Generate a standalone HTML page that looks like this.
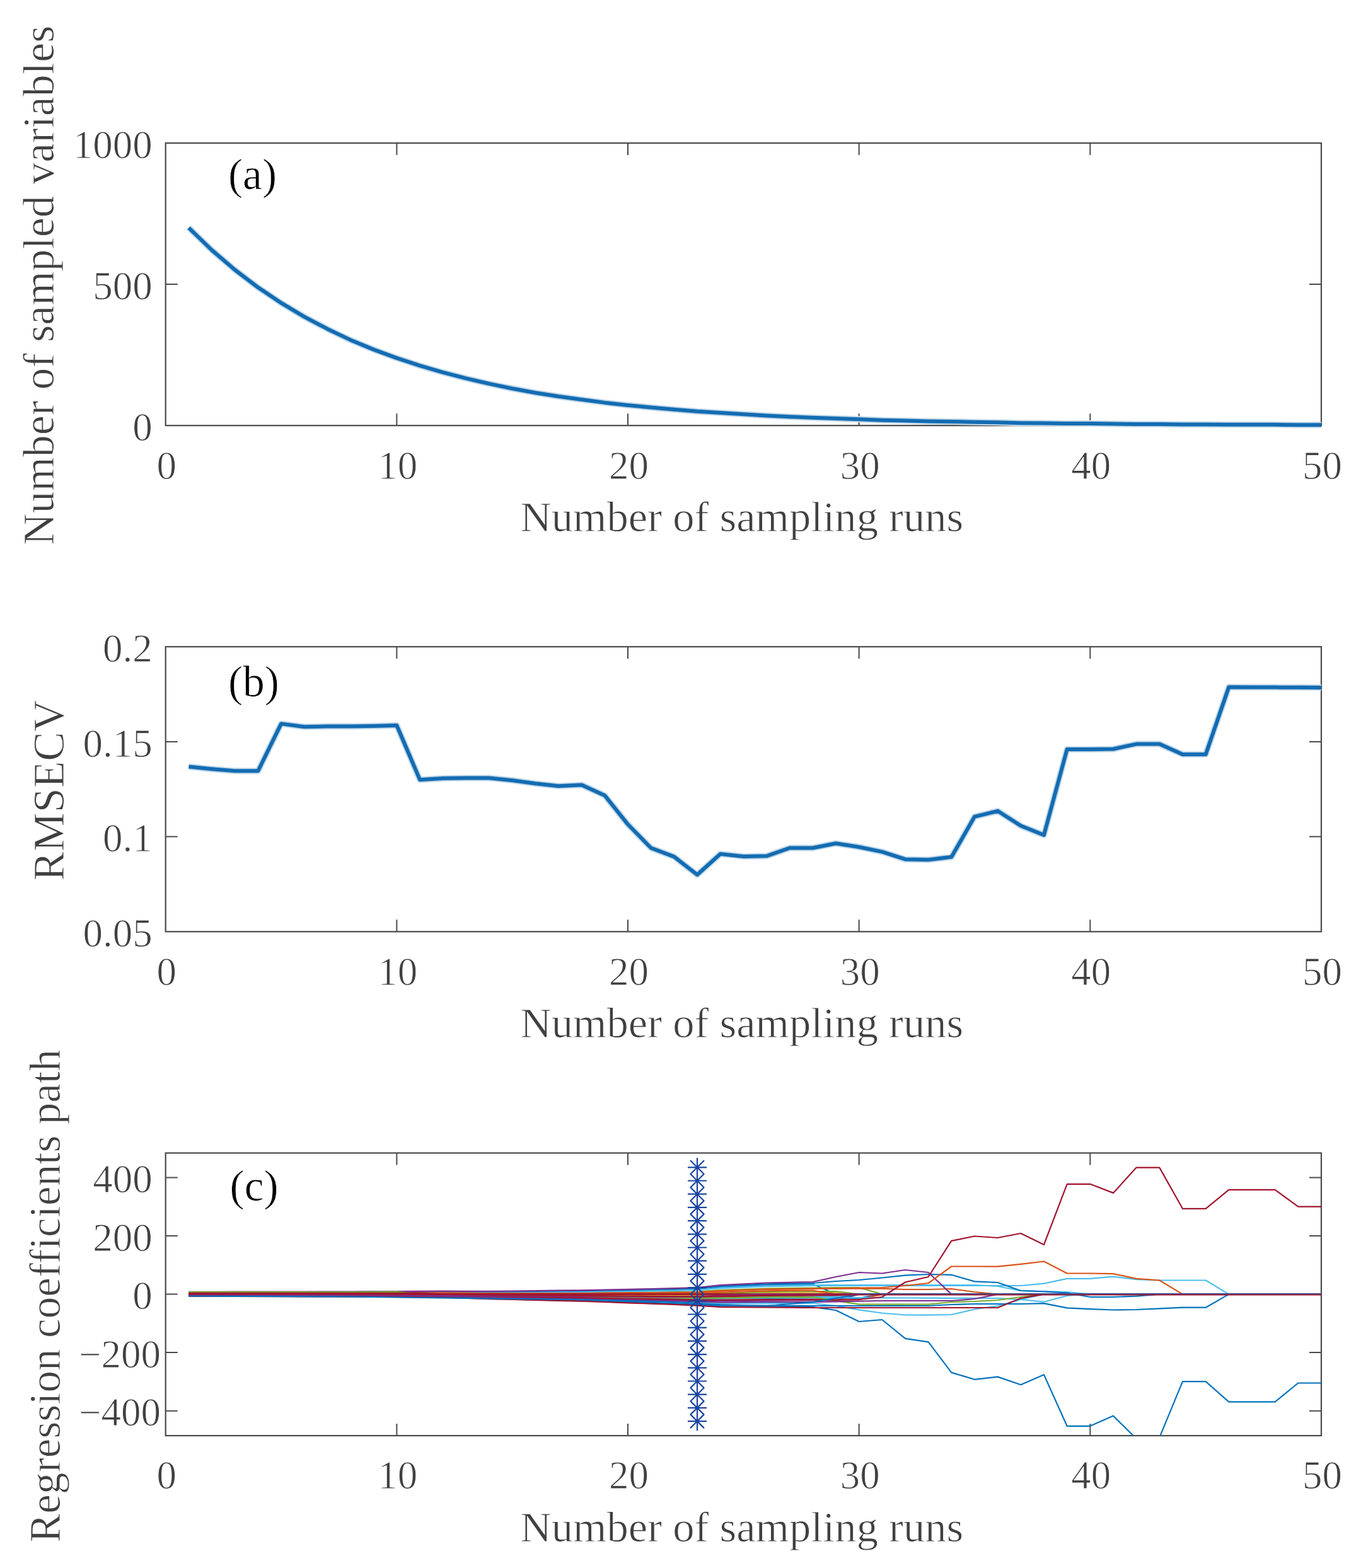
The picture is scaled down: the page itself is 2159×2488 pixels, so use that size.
<!DOCTYPE html>
<html><head><meta charset="utf-8"><title>CARS</title>
<style>
html,body{margin:0;padding:0;background:#fff;}
body{width:2159px;height:2488px;overflow:hidden;}
svg{display:block;}
.t{font-family:"Liberation Serif","Times New Roman",serif;font-size:63.0px;fill:#404040;stroke:#fff;stroke-width:0.9px;}
.l{font-family:"Liberation Serif","Times New Roman",serif;font-size:69.5px;fill:#404040;stroke:#fff;stroke-width:0.9px;}
.p{font-family:"Liberation Serif","Times New Roman",serif;font-size:69.5px;fill:#000;stroke:#fff;stroke-width:0.7px;}
</style></head><body>
<svg width="2159" height="2488" viewBox="0 0 2159 2488">
<rect x="0" y="0" width="2159" height="2488" fill="#ffffff"/>
<path d="M629.36 675.20V656.20M629.36 227.00V246.00M996.02 675.20V656.20M996.02 227.00V246.00M1362.68 675.20V656.20M1362.68 227.00V246.00M1729.34 675.20V656.20M1729.34 227.00V246.00M262.70 451.10H281.70M2096.00 451.10H2077.00" stroke="#4a4a4a" stroke-width="2" fill="none"/>
<rect x="262.70" y="227.00" width="1833.30" height="448.20" stroke="#4a4a4a" stroke-width="2.2" fill="none"/>
<path d="M629.36 1478.30V1459.30M629.36 1026.20V1045.20M996.02 1478.30V1459.30M996.02 1026.20V1045.20M1362.68 1478.30V1459.30M1362.68 1026.20V1045.20M1729.34 1478.30V1459.30M1729.34 1026.20V1045.20M262.70 1327.60H281.70M2096.00 1327.60H2077.00M262.70 1176.90H281.70M2096.00 1176.90H2077.00" stroke="#4a4a4a" stroke-width="2" fill="none"/>
<rect x="262.70" y="1026.20" width="1833.30" height="452.10" stroke="#4a4a4a" stroke-width="2.2" fill="none"/>
<path d="M629.36 2278.00V2259.00M629.36 1829.50V1848.50M996.02 2278.00V2259.00M996.02 1829.50V1848.50M1362.68 2278.00V2259.00M1362.68 1829.50V1848.50M1729.34 2278.00V2259.00M1729.34 1829.50V1848.50M262.70 2238.64H281.70M2096.00 2238.64H2077.00M262.70 2146.12H281.70M2096.00 2146.12H2077.00M262.70 2053.60H281.70M2096.00 2053.60H2077.00M262.70 1961.08H281.70M2096.00 1961.08H2077.00M262.70 1868.56H281.70M2096.00 1868.56H2077.00" stroke="#4a4a4a" stroke-width="2" fill="none"/>
<rect x="262.70" y="1829.50" width="1833.30" height="448.50" stroke="#4a4a4a" stroke-width="2.2" fill="none"/>
<path d="M299.37 361.46 L336.03 396.87 L372.70 428.24 L409.36 456.03 L446.03 480.68 L482.70 502.64 L519.36 521.92 L556.03 539.40 L592.69 554.63 L629.36 568.08 L666.03 580.18 L702.69 590.94 L739.36 600.35 L776.02 608.87 L812.69 616.49 L849.36 623.21 L886.02 629.04 L922.69 633.97 L959.35 638.90 L996.02 642.93 L1032.69 646.52 L1069.35 649.65 L1106.02 652.79 L1142.68 655.03 L1179.35 657.27 L1216.02 659.51 L1252.68 661.31 L1289.35 662.65 L1326.01 664.00 L1362.68 665.34 L1399.35 666.68 L1436.01 667.58 L1472.68 668.48 L1509.34 668.93 L1546.01 669.82 L1582.68 670.27 L1619.34 671.17 L1656.01 671.61 L1692.67 672.06 L1729.34 672.06 L1766.01 672.51 L1802.67 672.96 L1839.34 672.96 L1876.00 673.41 L1912.67 673.41 L1949.34 673.86 L1986.00 673.86 L2022.67 673.86 L2059.33 674.30 L2096.00 674.30" stroke="#c3d9ea" stroke-width="10" fill="none" stroke-linejoin="round"/>
<path d="M299.37 361.46 L336.03 396.87 L372.70 428.24 L409.36 456.03 L446.03 480.68 L482.70 502.64 L519.36 521.92 L556.03 539.40 L592.69 554.63 L629.36 568.08 L666.03 580.18 L702.69 590.94 L739.36 600.35 L776.02 608.87 L812.69 616.49 L849.36 623.21 L886.02 629.04 L922.69 633.97 L959.35 638.90 L996.02 642.93 L1032.69 646.52 L1069.35 649.65 L1106.02 652.79 L1142.68 655.03 L1179.35 657.27 L1216.02 659.51 L1252.68 661.31 L1289.35 662.65 L1326.01 664.00 L1362.68 665.34 L1399.35 666.68 L1436.01 667.58 L1472.68 668.48 L1509.34 668.93 L1546.01 669.82 L1582.68 670.27 L1619.34 671.17 L1656.01 671.61 L1692.67 672.06 L1729.34 672.06 L1766.01 672.51 L1802.67 672.96 L1839.34 672.96 L1876.00 673.41 L1912.67 673.41 L1949.34 673.86 L1986.00 673.86 L2022.67 673.86 L2059.33 674.30 L2096.00 674.30" stroke="#136cb2" stroke-width="6" fill="none" stroke-linejoin="round"/>
<text x="264.20" y="759.50" class="t" text-anchor="middle">0</text>
<text x="630.86" y="759.50" class="t" text-anchor="middle">10</text>
<text x="997.52" y="759.50" class="t" text-anchor="middle">20</text>
<text x="1364.18" y="759.50" class="t" text-anchor="middle">30</text>
<text x="1730.84" y="759.50" class="t" text-anchor="middle">40</text>
<text x="2097.50" y="759.50" class="t" text-anchor="middle">50</text>
<text x="241.70" y="699.00" class="t" text-anchor="end">0</text>
<text x="241.70" y="474.90" class="t" text-anchor="end">500</text>
<text x="241.70" y="250.80" class="t" text-anchor="end">1000</text>
<text x="1176.75" y="843.20" class="l" style="font-size:68.6px" text-anchor="middle">Number of sampling runs</text>
<text transform="translate(85.30 452.80) rotate(-90)" x="0" y="0" class="l" style="font-size:69.85px" text-anchor="middle">Number of sampled variables</text>
<text x="361.90" y="299.50" class="p">(a)</text>
<path d="M299.37 1216.50 L336.03 1220.20 L372.70 1223.20 L409.36 1223.20 L446.03 1148.40 L482.70 1153.20 L519.36 1152.60 L556.03 1152.60 L592.69 1152.00 L629.36 1151.00 L666.03 1237.20 L702.69 1235.00 L739.36 1234.50 L776.02 1234.50 L812.69 1238.30 L849.36 1243.20 L886.02 1247.20 L922.69 1245.40 L959.35 1262.20 L996.02 1308.00 L1032.69 1345.50 L1069.35 1359.40 L1106.02 1388.00 L1142.68 1354.90 L1179.35 1358.90 L1216.02 1358.30 L1252.68 1345.50 L1289.35 1345.50 L1326.01 1338.20 L1362.68 1344.00 L1399.35 1351.60 L1436.01 1363.40 L1472.68 1364.30 L1509.34 1359.80 L1546.01 1295.80 L1582.68 1286.80 L1619.34 1310.30 L1656.01 1325.00 L1692.67 1189.00 L1729.34 1189.00 L1766.01 1188.50 L1802.67 1180.60 L1839.34 1180.60 L1876.00 1196.90 L1912.67 1196.90 L1949.34 1090.20 L1986.00 1090.40 L2022.67 1090.60 L2059.33 1090.80 L2096.00 1091.00" stroke="#c3d9ea" stroke-width="10" fill="none" stroke-linejoin="round"/>
<path d="M299.37 1216.50 L336.03 1220.20 L372.70 1223.20 L409.36 1223.20 L446.03 1148.40 L482.70 1153.20 L519.36 1152.60 L556.03 1152.60 L592.69 1152.00 L629.36 1151.00 L666.03 1237.20 L702.69 1235.00 L739.36 1234.50 L776.02 1234.50 L812.69 1238.30 L849.36 1243.20 L886.02 1247.20 L922.69 1245.40 L959.35 1262.20 L996.02 1308.00 L1032.69 1345.50 L1069.35 1359.40 L1106.02 1388.00 L1142.68 1354.90 L1179.35 1358.90 L1216.02 1358.30 L1252.68 1345.50 L1289.35 1345.50 L1326.01 1338.20 L1362.68 1344.00 L1399.35 1351.60 L1436.01 1363.40 L1472.68 1364.30 L1509.34 1359.80 L1546.01 1295.80 L1582.68 1286.80 L1619.34 1310.30 L1656.01 1325.00 L1692.67 1189.00 L1729.34 1189.00 L1766.01 1188.50 L1802.67 1180.60 L1839.34 1180.60 L1876.00 1196.90 L1912.67 1196.90 L1949.34 1090.20 L1986.00 1090.40 L2022.67 1090.60 L2059.33 1090.80 L2096.00 1091.00" stroke="#136cb2" stroke-width="6" fill="none" stroke-linejoin="round"/>
<text x="264.20" y="1562.60" class="t" text-anchor="middle">0</text>
<text x="630.86" y="1562.60" class="t" text-anchor="middle">10</text>
<text x="997.52" y="1562.60" class="t" text-anchor="middle">20</text>
<text x="1364.18" y="1562.60" class="t" text-anchor="middle">30</text>
<text x="1730.84" y="1562.60" class="t" text-anchor="middle">40</text>
<text x="2097.50" y="1562.60" class="t" text-anchor="middle">50</text>
<text x="241.70" y="1502.10" class="t" text-anchor="end">0.05</text>
<text x="241.70" y="1351.40" class="t" text-anchor="end">0.1</text>
<text x="241.70" y="1200.70" class="t" text-anchor="end">0.15</text>
<text x="241.70" y="1050.00" class="t" text-anchor="end">0.2</text>
<text x="1176.75" y="1646.30" class="l" style="font-size:68.6px" text-anchor="middle">Number of sampling runs</text>
<text transform="translate(100.50 1254.25) rotate(-90)" x="0" y="0" class="l" style="font-size:69.85px" text-anchor="middle">RMSECV</text>
<text x="361.90" y="1105.00" class="p">(b)</text>
<clipPath id="clc"><rect x="262.70" y="1829.50" width="1833.30" height="448.50"/></clipPath>
<g clip-path="url(#clc)" fill="none" stroke-width="2.2" stroke-linejoin="round">
<path stroke="#0072BD" d="M299.4 2050.4 L336.0 2050.4 L372.7 2050.3 L409.4 2050.3 L446.0 2050.3 L482.7 2050.2 L519.4 2050.2 L556.0 2050.2 L592.7 2050.0 L629.4 2049.8 L666.0 2049.7 L702.7 2049.5 L739.4 2049.7 L776.0 2049.9 L812.7 2049.6 L849.4 2049.3 L886.0 2049.1 L922.7 2048.8 L959.4 2048.2 L996.0 2047.6 L1032.7 2047.0 L1069.4 2046.4 L1106.0 2045.4 L1142.7 2042.1 L1179.3 2040.5 L1216.0 2038.8 L1252.7 2038.2 L1289.3 2037.5 L1326.0 2053.6 L1362.7 2053.6 L1399.3 2053.6 L1436.0 2053.6 L1472.7 2053.6 L1509.3 2053.6 L1546.0 2053.6 L1582.7 2053.6 L1619.3 2053.6 L1656.0 2053.6 L1692.7 2053.6 L1729.3 2053.6 L1766.0 2053.6 L1802.7 2053.6 L1839.3 2053.6 L1876.0 2053.6 L1912.7 2053.6 L1949.3 2053.6 L1986.0 2053.6 L2022.7 2053.6 L2059.3 2053.6 L2096.0 2053.6"/>
<path stroke="#EDB120" d="M299.4 2052.8 L336.0 2052.8 L372.7 2052.8 L409.4 2052.8 L446.0 2052.9 L482.7 2052.9 L519.4 2052.9 L556.0 2052.9 L592.7 2052.9 L629.4 2052.9 L666.0 2052.9 L702.7 2052.9 L739.4 2053.5 L776.0 2054.1 L812.7 2054.3 L849.4 2054.4 L886.0 2054.6 L922.7 2054.7 L959.4 2054.8 L996.0 2054.9 L1032.7 2055.1 L1069.4 2055.2 L1106.0 2055.2 L1142.7 2054.0 L1179.3 2053.1 L1216.0 2052.2 L1252.7 2051.8 L1289.3 2051.5 L1326.0 2051.4 L1362.7 2053.6 L1399.3 2053.6 L1436.0 2053.6 L1472.7 2053.6 L1509.3 2053.6 L1546.0 2053.6 L1582.7 2053.6 L1619.3 2053.6 L1656.0 2053.6 L1692.7 2053.6 L1729.3 2053.6 L1766.0 2053.6 L1802.7 2053.6 L1839.3 2053.6 L1876.0 2053.6 L1912.7 2053.6 L1949.3 2053.6 L1986.0 2053.6 L2022.7 2053.6 L2059.3 2053.6 L2096.0 2053.6"/>
<path stroke="#77AC30" d="M299.4 2051.4 L336.0 2051.4 L372.7 2051.4 L409.4 2051.4 L446.0 2051.4 L482.7 2051.4 L519.4 2051.4 L556.0 2051.3 L592.7 2051.2 L629.4 2051.2 L666.0 2051.1 L702.7 2051.0 L739.4 2051.3 L776.0 2051.7 L812.7 2051.6 L849.4 2051.5 L886.0 2051.4 L922.7 2051.3 L959.4 2051.0 L996.0 2050.7 L1032.7 2050.5 L1069.4 2050.2 L1106.0 2049.6 L1142.7 2047.2 L1179.3 2045.9 L1216.0 2044.5 L1252.7 2044.0 L1289.3 2043.5 L1326.0 2043.2 L1362.7 2043.0 L1399.3 2053.6 L1436.0 2053.6 L1472.7 2053.6 L1509.3 2053.6 L1546.0 2053.6 L1582.7 2053.6 L1619.3 2053.6 L1656.0 2053.6 L1692.7 2053.6 L1729.3 2053.6 L1766.0 2053.6 L1802.7 2053.6 L1839.3 2053.6 L1876.0 2053.6 L1912.7 2053.6 L1949.3 2053.6 L1986.0 2053.6 L2022.7 2053.6 L2059.3 2053.6 L2096.0 2053.6"/>
<path stroke="#4DBEEE" d="M299.4 2053.7 L336.0 2053.7 L372.7 2053.8 L409.4 2053.8 L446.0 2053.9 L482.7 2053.9 L519.4 2053.9 L556.0 2054.0 L592.7 2054.0 L629.4 2054.1 L666.0 2054.1 L702.7 2054.2 L739.4 2054.9 L776.0 2055.7 L812.7 2056.0 L849.4 2056.4 L886.0 2056.7 L922.7 2057.0 L959.4 2057.4 L996.0 2057.8 L1032.7 2058.2 L1069.4 2058.5 L1106.0 2059.0 L1142.7 2058.6 L1179.3 2057.9 L1216.0 2057.3 L1252.7 2057.1 L1289.3 2056.9 L1326.0 2057.0 L1362.7 2053.6 L1399.3 2053.6 L1436.0 2053.6 L1472.7 2053.6 L1509.3 2053.6 L1546.0 2053.6 L1582.7 2053.6 L1619.3 2053.6 L1656.0 2053.6 L1692.7 2053.6 L1729.3 2053.6 L1766.0 2053.6 L1802.7 2053.6 L1839.3 2053.6 L1876.0 2053.6 L1912.7 2053.6 L1949.3 2053.6 L1986.0 2053.6 L2022.7 2053.6 L2059.3 2053.6 L2096.0 2053.6"/>
<path stroke="#0072BD" d="M299.4 2054.2 L336.0 2054.2 L372.7 2054.2 L409.4 2054.3 L446.0 2054.3 L482.7 2054.4 L519.4 2054.4 L556.0 2054.5 L592.7 2054.5 L629.4 2054.6 L666.0 2054.7 L702.7 2054.8 L739.4 2055.7 L776.0 2056.5 L812.7 2056.9 L849.4 2057.3 L886.0 2057.7 L922.7 2058.1 L959.4 2058.6 L996.0 2059.1 L1032.7 2059.7 L1069.4 2060.2 L1106.0 2060.8 L1142.7 2060.8 L1179.3 2060.3 L1216.0 2059.8 L1252.7 2059.6 L1289.3 2059.5 L1326.0 2059.6 L1362.7 2059.8 L1399.3 2053.6 L1436.0 2053.6 L1472.7 2053.6 L1509.3 2053.6 L1546.0 2053.6 L1582.7 2053.6 L1619.3 2053.6 L1656.0 2053.6 L1692.7 2053.6 L1729.3 2053.6 L1766.0 2053.6 L1802.7 2053.6 L1839.3 2053.6 L1876.0 2053.6 L1912.7 2053.6 L1949.3 2053.6 L1986.0 2053.6 L2022.7 2053.6 L2059.3 2053.6 L2096.0 2053.6"/>
<path stroke="#D95319" d="M299.4 2054.6 L336.0 2054.6 L372.7 2054.7 L409.4 2054.7 L446.0 2054.8 L482.7 2054.8 L519.4 2054.9 L556.0 2054.9 L592.7 2055.0 L629.4 2055.2 L666.0 2055.3 L702.7 2055.4 L739.4 2056.3 L776.0 2057.2 L812.7 2057.7 L849.4 2058.2 L886.0 2058.7 L922.7 2059.1 L959.4 2059.8 L996.0 2060.4 L1032.7 2061.0 L1069.4 2061.7 L1106.0 2062.5 L1142.7 2062.8 L1179.3 2062.4 L1216.0 2062.0 L1252.7 2062.0 L1289.3 2061.9 L1326.0 2062.1 L1362.7 2062.3 L1399.3 2053.6 L1436.0 2053.6 L1472.7 2053.6 L1509.3 2053.6 L1546.0 2053.6 L1582.7 2053.6 L1619.3 2053.6 L1656.0 2053.6 L1692.7 2053.6 L1729.3 2053.6 L1766.0 2053.6 L1802.7 2053.6 L1839.3 2053.6 L1876.0 2053.6 L1912.7 2053.6 L1949.3 2053.6 L1986.0 2053.6 L2022.7 2053.6 L2059.3 2053.6 L2096.0 2053.6"/>
<path stroke="#77AC30" d="M299.4 2052.4 L336.0 2052.4 L372.7 2052.4 L409.4 2052.4 L446.0 2052.4 L482.7 2052.4 L519.4 2052.4 L556.0 2052.4 L592.7 2052.4 L629.4 2052.4 L666.0 2052.3 L702.7 2052.3 L739.4 2052.8 L776.0 2053.4 L812.7 2053.5 L849.4 2053.5 L886.0 2053.6 L922.7 2053.7 L959.4 2053.7 L996.0 2053.7 L1032.7 2053.7 L1069.4 2053.7 L1106.0 2053.5 L1142.7 2051.9 L1179.3 2050.9 L1216.0 2049.9 L1252.7 2049.5 L1289.3 2049.1 L1326.0 2049.0 L1362.7 2053.6 L1399.3 2053.6 L1436.0 2053.6 L1472.7 2053.6 L1509.3 2053.6 L1546.0 2053.6 L1582.7 2053.6 L1619.3 2053.6 L1656.0 2053.6 L1692.7 2053.6 L1729.3 2053.6 L1766.0 2053.6 L1802.7 2053.6 L1839.3 2053.6 L1876.0 2053.6 L1912.7 2053.6 L1949.3 2053.6 L1986.0 2053.6 L2022.7 2053.6 L2059.3 2053.6 L2096.0 2053.6"/>
<path stroke="#7E2F8E" d="M299.4 2054.8 L336.0 2054.9 L372.7 2054.9 L409.4 2055.0 L446.0 2055.1 L482.7 2055.1 L519.4 2055.2 L556.0 2055.2 L592.7 2055.4 L629.4 2055.5 L666.0 2055.6 L702.7 2055.8 L739.4 2056.7 L776.0 2057.7 L812.7 2058.2 L849.4 2058.8 L886.0 2059.3 L922.7 2059.8 L959.4 2060.5 L996.0 2061.2 L1032.7 2062.0 L1069.4 2062.7 L1106.0 2063.6 L1142.7 2064.2 L1179.3 2063.9 L1216.0 2063.6 L1252.7 2063.5 L1289.3 2063.5 L1326.0 2063.7 L1362.7 2053.6 L1399.3 2053.6 L1436.0 2053.6 L1472.7 2053.6 L1509.3 2053.6 L1546.0 2053.6 L1582.7 2053.6 L1619.3 2053.6 L1656.0 2053.6 L1692.7 2053.6 L1729.3 2053.6 L1766.0 2053.6 L1802.7 2053.6 L1839.3 2053.6 L1876.0 2053.6 L1912.7 2053.6 L1949.3 2053.6 L1986.0 2053.6 L2022.7 2053.6 L2059.3 2053.6 L2096.0 2053.6"/>
<path stroke="#D95319" d="M299.4 2052.1 L336.0 2052.1 L372.7 2052.1 L409.4 2052.1 L446.0 2052.1 L482.7 2052.1 L519.4 2052.1 L556.0 2052.1 L592.7 2052.1 L629.4 2052.0 L666.0 2052.0 L702.7 2051.9 L739.4 2052.4 L776.0 2052.9 L812.7 2052.9 L849.4 2053.0 L886.0 2053.0 L922.7 2053.0 L959.4 2052.9 L996.0 2052.8 L1032.7 2052.8 L1069.4 2052.7 L1106.0 2052.4 L1142.7 2050.6 L1179.3 2049.5 L1216.0 2048.3 L1252.7 2047.9 L1289.3 2047.5 L1326.0 2053.6 L1362.7 2053.6 L1399.3 2053.6 L1436.0 2053.6 L1472.7 2053.6 L1509.3 2053.6 L1546.0 2053.6 L1582.7 2053.6 L1619.3 2053.6 L1656.0 2053.6 L1692.7 2053.6 L1729.3 2053.6 L1766.0 2053.6 L1802.7 2053.6 L1839.3 2053.6 L1876.0 2053.6 L1912.7 2053.6 L1949.3 2053.6 L1986.0 2053.6 L2022.7 2053.6 L2059.3 2053.6 L2096.0 2053.6"/>
<path stroke="#A2142F" d="M299.4 2053.5 L336.0 2053.5 L372.7 2053.5 L409.4 2053.6 L446.0 2053.6 L482.7 2053.6 L519.4 2053.7 L556.0 2053.7 L592.7 2053.7 L629.4 2053.8 L666.0 2053.8 L702.7 2053.8 L739.4 2054.6 L776.0 2055.3 L812.7 2055.6 L849.4 2055.9 L886.0 2056.1 L922.7 2056.4 L959.4 2056.7 L996.0 2057.0 L1032.7 2057.4 L1069.4 2057.7 L1106.0 2058.0 L1142.7 2057.4 L1179.3 2056.7 L1216.0 2055.9 L1252.7 2055.7 L1289.3 2055.5 L1326.0 2055.5 L1362.7 2053.6 L1399.3 2053.6 L1436.0 2053.6 L1472.7 2053.6 L1509.3 2053.6 L1546.0 2053.6 L1582.7 2053.6 L1619.3 2053.6 L1656.0 2053.6 L1692.7 2053.6 L1729.3 2053.6 L1766.0 2053.6 L1802.7 2053.6 L1839.3 2053.6 L1876.0 2053.6 L1912.7 2053.6 L1949.3 2053.6 L1986.0 2053.6 L2022.7 2053.6 L2059.3 2053.6 L2096.0 2053.6"/>
<path stroke="#4DBEEE" d="M299.4 2055.6 L336.0 2055.7 L372.7 2055.7 L409.4 2055.8 L446.0 2055.9 L482.7 2056.0 L519.4 2056.0 L556.0 2056.1 L592.7 2056.3 L629.4 2056.5 L666.0 2056.7 L702.7 2056.8 L739.4 2057.9 L776.0 2059.1 L812.7 2059.7 L849.4 2060.4 L886.0 2061.1 L922.7 2061.7 L959.4 2062.7 L996.0 2063.6 L1032.7 2064.5 L1069.4 2065.5 L1106.0 2066.8 L1142.7 2068.0 L1179.3 2067.9 L1216.0 2067.8 L1252.7 2067.9 L1289.3 2068.0 L1326.0 2072.0 L1362.7 2078.3 L1399.3 2083.5 L1436.0 2086.5 L1472.7 2086.7 L1509.3 2086.0 L1546.0 2077.5 L1582.7 2072.0 L1619.3 2062.0 L1656.0 2053.6 L1692.7 2053.6 L1729.3 2053.6 L1766.0 2053.6 L1802.7 2053.6 L1839.3 2053.6 L1876.0 2053.6 L1912.7 2053.6 L1949.3 2053.6 L1986.0 2053.6 L2022.7 2053.6 L2059.3 2053.6 L2096.0 2053.6"/>
<path stroke="#0072BD" d="M299.4 2056.6 L336.0 2056.7 L372.7 2056.8 L409.4 2056.9 L446.0 2057.0 L482.7 2057.1 L519.4 2057.2 L556.0 2057.3 L592.7 2057.5 L629.4 2057.8 L666.0 2058.0 L702.7 2058.3 L739.4 2059.6 L776.0 2060.8 L812.7 2061.7 L849.4 2062.6 L886.0 2063.4 L922.7 2064.3 L959.4 2065.5 L996.0 2066.8 L1032.7 2068.0 L1069.4 2069.2 L1106.0 2071.0 L1142.7 2073.1 L1179.3 2073.3 L1216.0 2073.5 L1252.7 2073.8 L1289.3 2074.0 L1326.0 2079.0 L1362.7 2097.0 L1399.3 2094.0 L1436.0 2123.9 L1472.7 2129.4 L1509.3 2177.9 L1546.0 2188.8 L1582.7 2184.6 L1619.3 2197.2 L1656.0 2181.3 L1692.7 2262.8 L1729.3 2262.8 L1766.0 2246.6 L1802.7 2283.0 L1839.3 2281.0 L1876.0 2192.2 L1912.7 2192.2 L1949.3 2224.3 L1986.0 2224.3 L2022.7 2224.3 L2059.3 2194.5 L2096.0 2194.5"/>
<path stroke="#0072BD" d="M299.4 2056.3 L336.0 2056.4 L372.7 2056.5 L409.4 2056.5 L446.0 2056.6 L482.7 2056.7 L519.4 2056.8 L556.0 2056.9 L592.7 2057.1 L629.4 2057.4 L666.0 2057.6 L702.7 2057.8 L739.4 2059.0 L776.0 2060.2 L812.7 2061.0 L849.4 2061.8 L886.0 2062.6 L922.7 2063.4 L959.4 2064.6 L996.0 2065.7 L1032.7 2066.8 L1069.4 2068.0 L1106.0 2069.6 L1142.7 2071.4 L1179.3 2071.5 L1216.0 2071.6 L1252.7 2071.8 L1289.3 2072.0 L1326.0 2072.0 L1362.7 2072.0 L1399.3 2072.0 L1436.0 2072.0 L1472.7 2072.0 L1509.3 2070.0 L1546.0 2069.0 L1582.7 2069.0 L1619.3 2069.0 L1656.0 2068.2 L1692.7 2075.4 L1729.3 2077.2 L1766.0 2078.5 L1802.7 2078.0 L1839.3 2076.4 L1876.0 2074.7 L1912.7 2074.7 L1949.3 2053.6 L1986.0 2053.6 L2022.7 2053.6 L2059.3 2053.6 L2096.0 2053.6"/>
<path stroke="#4DBEEE" d="M299.4 2054.1 L336.0 2054.1 L372.7 2054.2 L409.4 2054.2 L446.0 2054.2 L482.7 2054.3 L519.4 2054.3 L556.0 2054.4 L592.7 2054.4 L629.4 2054.5 L666.0 2054.6 L702.7 2054.7 L739.4 2055.5 L776.0 2056.3 L812.7 2056.7 L849.4 2057.1 L886.0 2057.5 L922.7 2057.9 L959.4 2058.4 L996.0 2058.9 L1032.7 2059.4 L1069.4 2059.9 L1106.0 2060.5 L1142.7 2060.4 L1179.3 2059.8 L1216.0 2059.3 L1252.7 2059.1 L1289.3 2059.0 L1326.0 2059.1 L1362.7 2059.2 L1399.3 2059.4 L1436.0 2059.5 L1472.7 2059.6 L1509.3 2059.8 L1546.0 2059.9 L1582.7 2060.0 L1619.3 2062.0 L1656.0 2065.7 L1692.7 2056.0 L1729.3 2053.6 L1766.0 2053.6 L1802.7 2053.6 L1839.3 2053.6 L1876.0 2053.6 L1912.7 2053.6 L1949.3 2053.6 L1986.0 2053.6 L2022.7 2053.6 L2059.3 2053.6 L2096.0 2053.6"/>
<path stroke="#77AC30" d="M299.4 2053.9 L336.0 2053.9 L372.7 2054.0 L409.4 2054.0 L446.0 2054.1 L482.7 2054.1 L519.4 2054.1 L556.0 2054.2 L592.7 2054.2 L629.4 2054.3 L666.0 2054.4 L702.7 2054.4 L739.4 2055.2 L776.0 2056.1 L812.7 2056.4 L849.4 2056.8 L886.0 2057.1 L922.7 2057.5 L959.4 2057.9 L996.0 2058.4 L1032.7 2058.8 L1069.4 2059.2 L1106.0 2059.8 L1142.7 2059.5 L1179.3 2058.9 L1216.0 2058.3 L1252.7 2058.2 L1289.3 2058.0 L1326.0 2063.8 L1362.7 2069.7 L1399.3 2069.7 L1436.0 2069.7 L1472.7 2069.7 L1509.3 2066.0 L1546.0 2065.0 L1582.7 2063.0 L1619.3 2058.0 L1656.0 2053.6 L1692.7 2053.6 L1729.3 2053.6 L1766.0 2053.6 L1802.7 2053.6 L1839.3 2053.6 L1876.0 2053.6 L1912.7 2053.6 L1949.3 2053.6 L1986.0 2053.6 L2022.7 2053.6 L2059.3 2053.6 L2096.0 2053.6"/>
<path stroke="#7E2F8E" d="M299.4 2055.3 L336.0 2055.3 L372.7 2055.4 L409.4 2055.5 L446.0 2055.5 L482.7 2055.6 L519.4 2055.7 L556.0 2055.7 L592.7 2055.9 L629.4 2056.0 L666.0 2056.2 L702.7 2056.4 L739.4 2057.4 L776.0 2058.4 L812.7 2059.1 L849.4 2059.7 L886.0 2060.3 L922.7 2060.9 L959.4 2061.7 L996.0 2062.6 L1032.7 2063.4 L1069.4 2064.2 L1106.0 2065.4 L1142.7 2066.3 L1179.3 2066.1 L1216.0 2065.9 L1252.7 2066.0 L1289.3 2066.0 L1326.0 2065.3 L1362.7 2064.7 L1399.3 2064.0 L1436.0 2064.0 L1472.7 2064.0 L1509.3 2064.0 L1546.0 2061.0 L1582.7 2053.6 L1619.3 2053.6 L1656.0 2053.6 L1692.7 2053.6 L1729.3 2053.6 L1766.0 2053.6 L1802.7 2053.6 L1839.3 2053.6 L1876.0 2053.6 L1912.7 2053.6 L1949.3 2053.6 L1986.0 2053.6 L2022.7 2053.6 L2059.3 2053.6 L2096.0 2053.6"/>
<path stroke="#D95319" d="M299.4 2051.6 L336.0 2051.6 L372.7 2051.6 L409.4 2051.6 L446.0 2051.6 L482.7 2051.6 L519.4 2051.6 L556.0 2051.6 L592.7 2051.5 L629.4 2051.4 L666.0 2051.3 L702.7 2051.2 L739.4 2051.7 L776.0 2052.1 L812.7 2052.0 L849.4 2051.9 L886.0 2051.9 L922.7 2051.8 L959.4 2051.6 L996.0 2051.4 L1032.7 2051.1 L1069.4 2050.9 L1106.0 2050.4 L1142.7 2048.2 L1179.3 2046.9 L1216.0 2045.7 L1252.7 2045.2 L1289.3 2044.7 L1326.0 2044.7 L1362.7 2044.7 L1399.3 2044.7 L1436.0 2046.0 L1472.7 2046.0 L1509.3 2045.0 L1546.0 2050.0 L1582.7 2053.6 L1619.3 2053.6 L1656.0 2053.6 L1692.7 2053.6 L1729.3 2053.6 L1766.0 2053.6 L1802.7 2053.6 L1839.3 2053.6 L1876.0 2053.6 L1912.7 2053.6 L1949.3 2053.6 L1986.0 2053.6 L2022.7 2053.6 L2059.3 2053.6 L2096.0 2053.6"/>
<path stroke="#4DBEEE" d="M299.4 2050.7 L336.0 2050.6 L372.7 2050.6 L409.4 2050.6 L446.0 2050.6 L482.7 2050.5 L519.4 2050.5 L556.0 2050.5 L592.7 2050.3 L629.4 2050.2 L666.0 2050.0 L702.7 2049.9 L739.4 2050.1 L776.0 2050.3 L812.7 2050.1 L849.4 2049.9 L886.0 2049.6 L922.7 2049.4 L959.4 2048.9 L996.0 2048.4 L1032.7 2047.9 L1069.4 2047.4 L1106.0 2046.5 L1142.7 2043.4 L1179.3 2041.8 L1216.0 2040.3 L1252.7 2039.6 L1289.3 2039.0 L1326.0 2039.0 L1362.7 2039.0 L1399.3 2039.0 L1436.0 2039.0 L1472.7 2039.0 L1509.3 2039.0 L1546.0 2039.0 L1582.7 2041.0 L1619.3 2048.0 L1656.0 2049.0 L1692.7 2050.0 L1729.3 2053.6 L1766.0 2053.6 L1802.7 2053.6 L1839.3 2053.6 L1876.0 2053.6 L1912.7 2053.6 L1949.3 2053.6 L1986.0 2053.6 L2022.7 2053.6 L2059.3 2053.6 L2096.0 2053.6"/>
<path stroke="#4DBEEE" d="M299.4 2050.8 L336.0 2050.8 L372.7 2050.8 L409.4 2050.8 L446.0 2050.7 L482.7 2050.7 L519.4 2050.7 L556.0 2050.7 L592.7 2050.5 L629.4 2050.4 L666.0 2050.3 L702.7 2050.1 L739.4 2050.4 L776.0 2050.7 L812.7 2050.4 L849.4 2050.2 L886.0 2050.0 L922.7 2049.8 L959.4 2049.4 L996.0 2048.9 L1032.7 2048.4 L1069.4 2048.0 L1106.0 2047.2 L1142.7 2044.2 L1179.3 2042.7 L1216.0 2041.2 L1252.7 2040.6 L1289.3 2040.0 L1326.0 2040.0 L1362.7 2040.0 L1399.3 2040.0 L1436.0 2040.0 L1472.7 2040.0 L1509.3 2040.0 L1546.0 2040.0 L1582.7 2040.0 L1619.3 2040.0 L1656.0 2036.6 L1692.7 2028.9 L1729.3 2028.9 L1766.0 2025.6 L1802.7 2030.2 L1839.3 2031.5 L1876.0 2031.5 L1912.7 2031.5 L1949.3 2053.6 L1986.0 2053.6 L2022.7 2053.6 L2059.3 2053.6 L2096.0 2053.6"/>
<path stroke="#0072BD" d="M299.4 2050.2 L336.0 2050.1 L372.7 2050.1 L409.4 2050.0 L446.0 2050.0 L482.7 2050.0 L519.4 2049.9 L556.0 2049.9 L592.7 2049.7 L629.4 2049.5 L666.0 2049.3 L702.7 2049.2 L739.4 2049.3 L776.0 2049.4 L812.7 2049.1 L849.4 2048.8 L886.0 2048.5 L922.7 2048.1 L959.4 2047.5 L996.0 2046.8 L1032.7 2046.1 L1069.4 2045.5 L1106.0 2044.4 L1142.7 2040.8 L1179.3 2039.1 L1216.0 2037.4 L1252.7 2036.7 L1289.3 2036.0 L1326.0 2033.0 L1362.7 2031.0 L1399.3 2027.5 L1436.0 2023.6 L1472.7 2022.0 L1509.3 2022.8 L1546.0 2033.4 L1582.7 2035.0 L1619.3 2048.0 L1656.0 2049.3 L1692.7 2051.5 L1729.3 2058.0 L1766.0 2058.0 L1802.7 2056.7 L1839.3 2053.6 L1876.0 2053.6 L1912.7 2053.6 L1949.3 2053.6 L1986.0 2053.6 L2022.7 2053.6 L2059.3 2053.6 L2096.0 2053.6"/>
<path stroke="#7E2F8E" d="M299.4 2049.8 L336.0 2049.8 L372.7 2049.7 L409.4 2049.7 L446.0 2049.6 L482.7 2049.6 L519.4 2049.5 L556.0 2049.5 L592.7 2049.3 L629.4 2049.1 L666.0 2048.9 L702.7 2048.7 L739.4 2048.8 L776.0 2048.8 L812.7 2048.5 L849.4 2048.1 L886.0 2047.7 L922.7 2047.3 L959.4 2046.5 L996.0 2045.8 L1032.7 2045.0 L1069.4 2044.2 L1106.0 2043.0 L1142.7 2039.1 L1179.3 2037.3 L1216.0 2035.5 L1252.7 2034.8 L1289.3 2034.0 L1326.0 2026.0 L1362.7 2019.0 L1399.3 2020.5 L1436.0 2015.0 L1472.7 2019.0 L1509.3 2053.6 L1546.0 2053.6 L1582.7 2053.6 L1619.3 2053.6 L1656.0 2053.6 L1692.7 2053.6 L1729.3 2053.6 L1766.0 2053.6 L1802.7 2053.6 L1839.3 2053.6 L1876.0 2053.6 L1912.7 2053.6 L1949.3 2053.6 L1986.0 2053.6 L2022.7 2053.6 L2059.3 2053.6 L2096.0 2053.6"/>
<path stroke="#D95319" d="M299.4 2051.7 L336.0 2051.7 L372.7 2051.7 L409.4 2051.7 L446.0 2051.7 L482.7 2051.7 L519.4 2051.6 L556.0 2051.6 L592.7 2051.6 L629.4 2051.5 L666.0 2051.4 L702.7 2051.3 L739.4 2051.7 L776.0 2052.2 L812.7 2052.1 L849.4 2052.1 L886.0 2052.0 L922.7 2052.0 L959.4 2051.7 L996.0 2051.5 L1032.7 2051.3 L1069.4 2051.1 L1106.0 2050.7 L1142.7 2048.5 L1179.3 2047.2 L1216.0 2046.0 L1252.7 2045.5 L1289.3 2045.0 L1326.0 2044.3 L1362.7 2043.7 L1399.3 2043.0 L1436.0 2040.0 L1472.7 2036.0 L1509.3 2009.5 L1546.0 2009.5 L1582.7 2009.6 L1619.3 2005.8 L1656.0 2001.5 L1692.7 2020.5 L1729.3 2020.5 L1766.0 2021.2 L1802.7 2028.9 L1839.3 2031.5 L1876.0 2053.6 L1912.7 2053.6 L1949.3 2053.6 L1986.0 2053.6 L2022.7 2053.6 L2059.3 2053.6 L2096.0 2053.6"/>
<path stroke="#A2142F" d="M299.4 2056.8 L336.0 2056.9 L372.7 2057.0 L409.4 2057.1 L446.0 2057.2 L482.7 2057.3 L519.4 2057.4 L556.0 2057.5 L592.7 2057.7 L629.4 2058.0 L666.0 2058.3 L702.7 2058.5 L739.4 2059.8 L776.0 2061.2 L812.7 2062.0 L849.4 2062.9 L886.0 2063.8 L922.7 2064.7 L959.4 2066.0 L996.0 2067.3 L1032.7 2068.6 L1069.4 2069.9 L1106.0 2071.7 L1142.7 2074.0 L1179.3 2074.2 L1216.0 2074.5 L1252.7 2074.7 L1289.3 2075.0 L1326.0 2075.0 L1362.7 2075.0 L1399.3 2075.0 L1436.0 2075.0 L1472.7 2075.0 L1509.3 2075.0 L1546.0 2075.0 L1582.7 2075.0 L1619.3 2060.0 L1656.0 2053.6 L1692.7 2053.6 L1729.3 2053.6 L1766.0 2053.6 L1802.7 2053.6 L1839.3 2053.6 L1876.0 2053.6 L1912.7 2053.6 L1949.3 2053.6 L1986.0 2053.6 L2022.7 2053.6 L2059.3 2053.6 L2096.0 2053.6"/>
<path stroke="#A2142F" d="M299.4 2054.6 L336.0 2054.6 L372.7 2054.7 L409.4 2054.7 L446.0 2054.8 L482.7 2054.8 L519.4 2054.9 L556.0 2055.0 L592.7 2055.1 L629.4 2055.2 L666.0 2055.3 L702.7 2055.4 L739.4 2056.3 L776.0 2057.2 L812.7 2057.7 L849.4 2058.2 L886.0 2058.7 L922.7 2059.2 L959.4 2059.8 L996.0 2060.5 L1032.7 2061.1 L1069.4 2061.7 L1106.0 2062.6 L1142.7 2062.9 L1179.3 2062.5 L1216.0 2062.1 L1252.7 2062.1 L1289.3 2062.0 L1326.0 2063.0 L1362.7 2062.0 L1399.3 2058.0 L1436.0 2034.5 L1472.7 2026.0 L1509.3 1968.9 L1546.0 1961.5 L1582.7 1964.0 L1619.3 1957.0 L1656.0 1975.0 L1692.7 1878.8 L1729.3 1878.8 L1766.0 1892.9 L1802.7 1852.6 L1839.3 1852.6 L1876.0 1917.8 L1912.7 1917.8 L1949.3 1887.8 L1986.0 1887.8 L2022.7 1887.8 L2059.3 1914.7 L2096.0 1914.7"/>
<path stroke="#77AC30" d="M299.4 2050.2 L336.0 2050.2 L372.7 2050.2 L409.4 2050.1 L446.0 2050.1 L482.7 2050.1 L519.4 2050.0 L556.0 2050.0 L592.7 2049.8 L629.4 2049.6 L666.0 2053.6 L702.7 2053.6 L739.4 2053.6 L776.0 2053.6 L812.7 2053.6 L849.4 2053.6 L886.0 2053.6 L922.7 2053.6 L959.4 2053.6 L996.0 2053.6 L1032.7 2053.6 L1069.4 2053.6 L1106.0 2053.6 L1142.7 2053.6 L1179.3 2053.6 L1216.0 2053.6 L1252.7 2053.6 L1289.3 2053.6 L1326.0 2053.6 L1362.7 2053.6 L1399.3 2053.6 L1436.0 2053.6 L1472.7 2053.6 L1509.3 2053.6 L1546.0 2053.6 L1582.7 2053.6 L1619.3 2053.6 L1656.0 2053.6 L1692.7 2053.6 L1729.3 2053.6 L1766.0 2053.6 L1802.7 2053.6 L1839.3 2053.6 L1876.0 2053.6 L1912.7 2053.6 L1949.3 2053.6 L1986.0 2053.6 L2022.7 2053.6 L2059.3 2053.6 L2096.0 2053.6"/>
<path stroke="#A2142F" d="M299.4 2051.9 L336.0 2051.9 L372.7 2051.9 L409.4 2051.9 L446.0 2051.9 L482.7 2051.9 L519.4 2051.9 L556.0 2051.9 L592.7 2051.9 L629.4 2051.8 L666.0 2051.7 L702.7 2053.6 L739.4 2053.6 L776.0 2053.6 L812.7 2053.6 L849.4 2053.6 L886.0 2053.6 L922.7 2053.6 L959.4 2053.6 L996.0 2053.6 L1032.7 2053.6 L1069.4 2053.6 L1106.0 2053.6 L1142.7 2053.6 L1179.3 2053.6 L1216.0 2053.6 L1252.7 2053.6 L1289.3 2053.6 L1326.0 2053.6 L1362.7 2053.6 L1399.3 2053.6 L1436.0 2053.6 L1472.7 2053.6 L1509.3 2053.6 L1546.0 2053.6 L1582.7 2053.6 L1619.3 2053.6 L1656.0 2053.6 L1692.7 2053.6 L1729.3 2053.6 L1766.0 2053.6 L1802.7 2053.6 L1839.3 2053.6 L1876.0 2053.6 L1912.7 2053.6 L1949.3 2053.6 L1986.0 2053.6 L2022.7 2053.6 L2059.3 2053.6 L2096.0 2053.6"/>
<path stroke="#A2142F" d="M299.4 2054.5 L336.0 2054.5 L372.7 2054.6 L409.4 2054.6 L446.0 2054.7 L482.7 2054.8 L519.4 2054.8 L556.0 2054.9 L592.7 2055.0 L629.4 2055.1 L666.0 2055.2 L702.7 2053.6 L739.4 2053.6 L776.0 2053.6 L812.7 2053.6 L849.4 2053.6 L886.0 2053.6 L922.7 2053.6 L959.4 2053.6 L996.0 2053.6 L1032.7 2053.6 L1069.4 2053.6 L1106.0 2053.6 L1142.7 2053.6 L1179.3 2053.6 L1216.0 2053.6 L1252.7 2053.6 L1289.3 2053.6 L1326.0 2053.6 L1362.7 2053.6 L1399.3 2053.6 L1436.0 2053.6 L1472.7 2053.6 L1509.3 2053.6 L1546.0 2053.6 L1582.7 2053.6 L1619.3 2053.6 L1656.0 2053.6 L1692.7 2053.6 L1729.3 2053.6 L1766.0 2053.6 L1802.7 2053.6 L1839.3 2053.6 L1876.0 2053.6 L1912.7 2053.6 L1949.3 2053.6 L1986.0 2053.6 L2022.7 2053.6 L2059.3 2053.6 L2096.0 2053.6"/>
<path stroke="#A2142F" d="M299.4 2055.9 L336.0 2055.9 L372.7 2056.0 L409.4 2056.1 L446.0 2056.2 L482.7 2056.3 L519.4 2056.3 L556.0 2056.4 L592.7 2056.6 L629.4 2056.8 L666.0 2057.0 L702.7 2053.6 L739.4 2053.6 L776.0 2053.6 L812.7 2053.6 L849.4 2053.6 L886.0 2053.6 L922.7 2053.6 L959.4 2053.6 L996.0 2053.6 L1032.7 2053.6 L1069.4 2053.6 L1106.0 2053.6 L1142.7 2053.6 L1179.3 2053.6 L1216.0 2053.6 L1252.7 2053.6 L1289.3 2053.6 L1326.0 2053.6 L1362.7 2053.6 L1399.3 2053.6 L1436.0 2053.6 L1472.7 2053.6 L1509.3 2053.6 L1546.0 2053.6 L1582.7 2053.6 L1619.3 2053.6 L1656.0 2053.6 L1692.7 2053.6 L1729.3 2053.6 L1766.0 2053.6 L1802.7 2053.6 L1839.3 2053.6 L1876.0 2053.6 L1912.7 2053.6 L1949.3 2053.6 L1986.0 2053.6 L2022.7 2053.6 L2059.3 2053.6 L2096.0 2053.6"/>
<path stroke="#7E2F8E" d="M299.4 2054.5 L336.0 2054.6 L372.7 2054.7 L409.4 2054.8 L446.0 2054.9 L482.7 2055.0 L519.4 2055.2 L556.0 2055.3 L592.7 2055.5 L629.4 2055.7 L666.0 2055.8 L702.7 2056.0 L739.4 2056.2 L776.0 2056.3 L812.7 2056.5 L849.4 2056.7 L886.0 2056.8 L922.7 2057.0 L959.4 2057.2 L996.0 2057.5 L1032.7 2057.8 L1069.4 2058.0 L1106.0 2056.9 L1142.7 2055.8 L1179.3 2054.7 L1216.0 2053.6 L1252.7 2053.6 L1289.3 2053.6 L1326.0 2053.6 L1362.7 2053.6 L1399.3 2053.6 L1436.0 2053.6 L1472.7 2053.6 L1509.3 2053.6 L1546.0 2053.6 L1582.7 2053.6 L1619.3 2053.6 L1656.0 2053.6 L1692.7 2053.6 L1729.3 2053.6 L1766.0 2053.6 L1802.7 2053.6 L1839.3 2053.6 L1876.0 2053.6 L1912.7 2053.6 L1949.3 2053.6 L1986.0 2053.6 L2022.7 2053.6 L2059.3 2053.6 L2096.0 2053.6"/>
<path stroke="#0072BD" d="M299.4 2056.5 L336.0 2056.6 L372.7 2056.8 L409.4 2056.9 L446.0 2057.1 L482.7 2057.2 L519.4 2057.4 L556.0 2057.5 L592.7 2058.0 L629.4 2058.5 L666.0 2059.0 L702.7 2059.5 L739.4 2059.9 L776.0 2060.3 L812.7 2060.8 L849.4 2061.2 L886.0 2061.6 L922.7 2062.0 L959.4 2063.0 L996.0 2064.0 L1032.7 2065.0 L1069.4 2066.0 L1106.0 2068.0 L1142.7 2070.0 L1179.3 2071.0 L1216.0 2072.0 L1252.7 2069.0 L1289.3 2066.0 L1326.0 2059.8 L1362.7 2053.6 L1399.3 2053.6 L1436.0 2053.6 L1472.7 2053.6 L1509.3 2053.6 L1546.0 2053.6 L1582.7 2053.6 L1619.3 2053.6 L1656.0 2053.6 L1692.7 2053.6 L1729.3 2053.6 L1766.0 2053.6 L1802.7 2053.6 L1839.3 2053.6 L1876.0 2053.6 L1912.7 2053.6 L1949.3 2053.6 L1986.0 2053.6 L2022.7 2053.6 L2059.3 2053.6 L2096.0 2053.6"/>
<path stroke="#A2142F" d="M299.4 2053.3 L336.0 2053.3 L372.7 2053.4 L409.4 2053.4 L446.0 2053.4 L482.7 2053.4 L519.4 2053.5 L556.0 2053.5 L592.7 2053.5 L629.4 2053.5 L666.0 2053.6 L702.7 2053.6 L739.4 2054.3 L776.0 2055.0 L812.7 2055.2 L849.4 2055.5 L886.0 2055.8 L922.7 2056.0 L959.4 2056.3 L996.0 2056.5 L1032.7 2056.8 L1069.4 2057.0 L1106.0 2057.3 L1142.7 2056.5 L1179.3 2055.8 L1216.0 2055.0 L1252.7 2054.8 L1289.3 2054.5 L1326.0 2054.5 L1362.7 2054.5 L1399.3 2054.5 L1436.0 2054.5 L1472.7 2054.5 L1509.3 2054.5 L1546.0 2054.5 L1582.7 2054.5 L1619.3 2054.5 L1656.0 2054.5 L1692.7 2054.5 L1729.3 2054.5 L1766.0 2054.5 L1802.7 2054.5 L1839.3 2054.5 L1876.0 2054.5 L1912.7 2054.5 L1949.3 2054.5 L1986.0 2054.5 L2022.7 2054.5 L2059.3 2054.5 L2096.0 2054.5"/>
</g>
<path d="M1106.02 1837.30V2270.10M1091.02 1852.30H1121.02M1095.02 1841.30L1117.02 1863.30M1095.02 1863.30L1117.02 1841.30M1091.02 1873.50H1121.02M1095.02 1862.50L1117.02 1884.50M1095.02 1884.50L1117.02 1862.50M1091.02 1894.70H1121.02M1095.02 1883.70L1117.02 1905.70M1095.02 1905.70L1117.02 1883.70M1091.02 1915.90H1121.02M1095.02 1904.90L1117.02 1926.90M1095.02 1926.90L1117.02 1904.90M1091.02 1937.10H1121.02M1095.02 1926.10L1117.02 1948.10M1095.02 1948.10L1117.02 1926.10M1091.02 1958.30H1121.02M1095.02 1947.30L1117.02 1969.30M1095.02 1969.30L1117.02 1947.30M1091.02 1979.50H1121.02M1095.02 1968.50L1117.02 1990.50M1095.02 1990.50L1117.02 1968.50M1091.02 2000.70H1121.02M1095.02 1989.70L1117.02 2011.70M1095.02 2011.70L1117.02 1989.70M1091.02 2021.90H1121.02M1095.02 2010.90L1117.02 2032.90M1095.02 2032.90L1117.02 2010.90M1091.02 2043.10H1121.02M1095.02 2032.10L1117.02 2054.10M1095.02 2054.10L1117.02 2032.10M1091.02 2064.30H1121.02M1095.02 2053.30L1117.02 2075.30M1095.02 2075.30L1117.02 2053.30M1091.02 2085.50H1121.02M1095.02 2074.50L1117.02 2096.50M1095.02 2096.50L1117.02 2074.50M1091.02 2106.70H1121.02M1095.02 2095.70L1117.02 2117.70M1095.02 2117.70L1117.02 2095.70M1091.02 2127.90H1121.02M1095.02 2116.90L1117.02 2138.90M1095.02 2138.90L1117.02 2116.90M1091.02 2149.10H1121.02M1095.02 2138.10L1117.02 2160.10M1095.02 2160.10L1117.02 2138.10M1091.02 2170.30H1121.02M1095.02 2159.30L1117.02 2181.30M1095.02 2181.30L1117.02 2159.30M1091.02 2191.50H1121.02M1095.02 2180.50L1117.02 2202.50M1095.02 2202.50L1117.02 2180.50M1091.02 2212.70H1121.02M1095.02 2201.70L1117.02 2223.70M1095.02 2223.70L1117.02 2201.70M1091.02 2233.90H1121.02M1095.02 2222.90L1117.02 2244.90M1095.02 2244.90L1117.02 2222.90M1091.02 2255.10H1121.02M1095.02 2244.10L1117.02 2266.10M1095.02 2266.10L1117.02 2244.10" stroke="#1a44a0" stroke-width="2.2" fill="none"/>
<text x="264.20" y="2362.30" class="t" text-anchor="middle">0</text>
<text x="630.86" y="2362.30" class="t" text-anchor="middle">10</text>
<text x="997.52" y="2362.30" class="t" text-anchor="middle">20</text>
<text x="1364.18" y="2362.30" class="t" text-anchor="middle">30</text>
<text x="1730.84" y="2362.30" class="t" text-anchor="middle">40</text>
<text x="2097.50" y="2362.30" class="t" text-anchor="middle">50</text>
<text x="255.00" y="2262.44" class="t" text-anchor="end">−400</text>
<text x="255.00" y="2169.92" class="t" text-anchor="end">−200</text>
<text x="241.70" y="2077.40" class="t" text-anchor="end">0</text>
<text x="241.70" y="1984.88" class="t" text-anchor="end">200</text>
<text x="241.70" y="1892.36" class="t" text-anchor="end">400</text>
<text x="1176.75" y="2446.00" class="l" style="font-size:68.6px" text-anchor="middle">Number of sampling runs</text>
<text transform="translate(95.00 2056.50) rotate(-90)" x="0" y="0" class="l" style="font-size:69.2px" text-anchor="middle">Regression coefficients path</text>
<text x="364.50" y="1904.50" class="p">(c)</text>
</svg>
</body></html>
